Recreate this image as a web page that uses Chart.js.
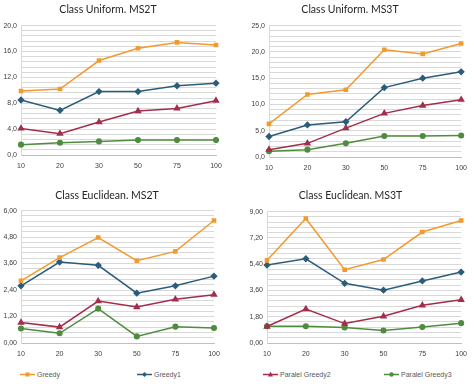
<!DOCTYPE html>
<html>
<head>
<meta charset="utf-8">
<script src="https://cdn.jsdelivr.net/npm/chart.js@4.4.1/dist/chart.umd.min.js"></script>
<style>
  html,body{margin:0;padding:0;background:#fff;width:474px;height:386px;overflow:hidden;}
  .c{position:absolute;}
  #legend{position:absolute;left:0;top:368px;width:474px;height:14px;font-family:"Liberation Sans",Arial,sans-serif;font-size:7px;color:#595959;}
  .li{position:absolute;top:0;display:flex;align-items:center;height:12px;}
  .li svg{margin-right:2px;}
</style>
</head>
<body>
<div class="c" style="left:0;top:0;width:237px;height:176px;"><canvas id="c1"></canvas></div>
<div class="c" style="left:237px;top:0;width:237px;height:176px;"><canvas id="c2"></canvas></div>
<div class="c" style="left:0;top:186px;width:237px;height:177px;"><canvas id="c3"></canvas></div>
<div class="c" style="left:237px;top:186px;width:237px;height:177px;"><canvas id="c4"></canvas></div>
<div id="legend"></div>
<script>
// ---- data ----
const categories = ["10", "20", "30", "50", "75", "100"];
const seriesNames = ["Greedy", "Greedy1", "Paralel Greedy2", "Paralel Greedy3"];

// Class Uniform. MS2T
const uniformMS2T_greedy  = [9.9, 10.2, 14.6, 16.5, 17.4, 17.0];
const uniformMS2T_greedy1 = [8.5, 6.9, 9.8, 9.8, 10.7, 11.1];
const uniformMS2T_greedy2 = [4.1, 3.3, 5.1, 6.8, 7.2, 8.4];
const uniformMS2T_greedy3 = [1.6, 1.9, 2.1, 2.3, 2.3, 2.3];

// Class Uniform. MS3T
const uniformMS3T_greedy  = [6.3, 11.9, 12.8, 20.4, 19.6, 21.6];
const uniformMS3T_greedy1 = [3.9, 6.1, 6.7, 13.2, 15.0, 16.2];
const uniformMS3T_greedy2 = [1.4, 2.6, 5.5, 8.3, 9.8, 10.9];
const uniformMS3T_greedy3 = [1.1, 1.4, 2.6, 4.0, 4.0, 4.1];

// Class Euclidean. MS2T
const euclidMS2T_greedy  = [2.82, 3.87, 4.78, 3.73, 4.15, 5.55];
const euclidMS2T_greedy1 = [2.59, 3.67, 3.52, 2.26, 2.59, 3.03];
const euclidMS2T_greedy2 = [0.93, 0.72, 1.90, 1.63, 1.98, 2.19];
const euclidMS2T_greedy3 = [0.66, 0.44, 1.56, 0.30, 0.74, 0.68];

// Class Euclidean. MS3T
const euclidMS3T_greedy  = [5.66, 8.53, 5.02, 5.72, 7.60, 8.39];
const euclidMS3T_greedy1 = [5.34, 5.77, 4.09, 3.62, 4.25, 4.86];
const euclidMS3T_greedy2 = [1.13, 2.33, 1.33, 1.83, 2.58, 2.96];
const euclidMS3T_greedy3 = [1.15, 1.15, 1.06, 0.86, 1.09, 1.36];

// axis label steps
const yAxisMax   = [20, 25, 6, 9];
const yLabelStep = [4, 5, 1.2, 1.8];
const yDecimals  = [1, 1, 2, 2];

// ---- styles ----
const colors = ["#F39A2E", "#2B5D7B", "#A32E4C", "#4F8C3E"];
const markers = ["rect", "rectRot", "triangle", "circle"];
const markerSize = [2.2, 2.6, 2.8, 2.3];
const titleFont = { family: 'Lato, sans-serif', size: 10.5 };

function makeChart(id, title, seriesData, idx, geom) {
  const ctx = document.getElementById(id);
  const max = yAxisMax[idx], step = yLabelStep[idx], dec = yDecimals[idx];
  new Chart(ctx, {
    type: 'line',
    data: {
      labels: categories,
      datasets: seriesData.map((d, i) => ({
        label: seriesNames[i],
        data: d,
        borderColor: colors[i],
        backgroundColor: colors[i],
        pointStyle: markers[i],
        pointRadius: markerSize[i],
        pointHoverRadius: markerSize[i],
        borderWidth: 1.5,
        tension: 0,
        fill: false
      }))
    },
    options: {
      responsive: true,
      maintainAspectRatio: false,
      animation: false,
      events: [],
      layout: { padding: { left: 0, right: geom.rp, top: geom.tp, bottom: 0 } },
      plugins: {
        legend: { display: false },
        tooltip: { enabled: false },
        title: {
          display: true,
          text: title,
          color: '#262626',
          font: { family: titleFont.family, size: titleFont.size, weight: 'normal' },
          padding: { top: 0, bottom: geom.tb }
        }
      },
      scales: {
        x: {
          offset: false,
          grid: { display: false, drawTicks: false },
          border: { display: true, color: '#bfbfbf', width: 1 },
          ticks: {
            color: '#404040',
            font: { family: '"Liberation Sans", Arial, sans-serif', size: 7 },
            padding: 7,
            maxRotation: 0,
            autoSkip: false
          },
          afterFit: s => { s.height = geom.xh; }
        },
        y: {
          min: 0,
          max: max,
          grid: { color: '#d9d9d9', lineWidth: 1, drawTicks: false },
          border: { display: true, color: '#d9d9d9', width: 1 },
          ticks: {
            stepSize: step / 5,
            autoSkip: false,
            color: '#404040',
            font: { family: '"Liberation Sans", Arial, sans-serif', size: 7 },
            padding: 4,
            callback: (v, i) => (i % 5 === 0 ? v.toFixed(dec).replace('.', ',') : '')
          },
          afterFit: s => { s.width = geom.yw; }
        }
      }
    }
  });
}

makeChart('c1', 'Class Uniform. MS2T',
  [uniformMS2T_greedy, uniformMS2T_greedy1, uniformMS2T_greedy2, uniformMS2T_greedy3], 0,
  { yw: 21, rp: 21, tp: 3, tb: 10, xh: 21 });
makeChart('c2', 'Class Uniform. MS3T',
  [uniformMS3T_greedy, uniformMS3T_greedy1, uniformMS3T_greedy2, uniformMS3T_greedy3], 1,
  { yw: 32, rp: 11, tp: 3, tb: 10, xh: 19 });
makeChart('c3', 'Class Euclidean. MS2T',
  [euclidMS2T_greedy, euclidMS2T_greedy1, euclidMS2T_greedy2, euclidMS2T_greedy3], 2,
  { yw: 21, rp: 23, tp: 3, tb: 9, xh: 20 });
makeChart('c4', 'Class Euclidean. MS3T',
  [euclidMS3T_greedy, euclidMS3T_greedy1, euclidMS3T_greedy2, euclidMS3T_greedy3], 3,
  { yw: 30, rp: 10, tp: 3, tb: 10, xh: 20 });

// ---- legend ----
const legendLeft = [20, 137, 263, 384];
const legend = document.getElementById('legend');
seriesNames.forEach((name, i) => {
  const item = document.createElement('div');
  item.className = 'li';
  item.style.left = legendLeft[i] + 'px';
  let shape = '';
  const c = colors[i];
  if (markers[i] === 'rect') shape = `<rect x="5.5" y="3.5" width="4" height="4" fill="${c}"/>`;
  else if (markers[i] === 'rectRot') shape = `<polygon points="7.5,3 10,5.5 7.5,8 5,5.5" fill="${c}"/>`;
  else if (markers[i] === 'triangle') shape = `<polygon points="7.5,2.5 10,7.5 5,7.5" fill="${c}"/>`;
  else shape = `<circle cx="7.5" cy="5.5" r="2.2" fill="${c}"/>`;
  item.innerHTML = `<svg width="15" height="11"><line x1="0" y1="5.5" x2="15" y2="5.5" stroke="${c}" stroke-width="1.5"/>${shape}</svg><span>${name}</span>`;
  legend.appendChild(item);
});
</script>
</body>
</html>
